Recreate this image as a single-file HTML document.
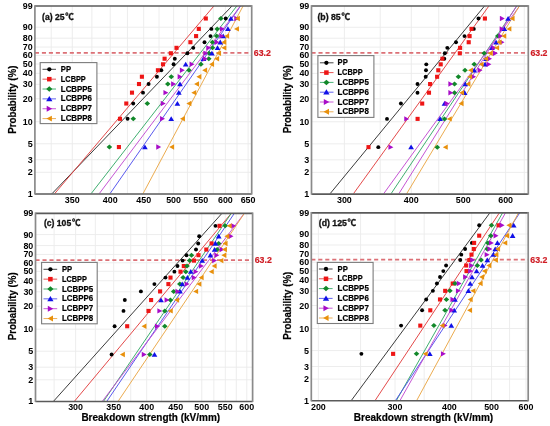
<!DOCTYPE html>
<html><head><meta charset="utf-8"><style>
html,body{margin:0;padding:0;background:#fff;width:550px;height:426px;overflow:hidden}
svg{display:block;filter:blur(0.3px);font-family:'Liberation Sans', 'Noto Sans CJK SC', sans-serif}
</style></head><body>
<svg width="550" height="426" viewBox="0 0 550 426">
<rect width="550" height="426" fill="#ffffff"/>
<g><line x1="51.25" y1="6.00" x2="51.25" y2="193.70" stroke="#ebebeb" stroke-width="0.9"/><line x1="72.30" y1="6.00" x2="72.30" y2="193.70" stroke="#ebebeb" stroke-width="0.9"/><line x1="91.89" y1="6.00" x2="91.89" y2="193.70" stroke="#ebebeb" stroke-width="0.9"/><line x1="110.22" y1="6.00" x2="110.22" y2="193.70" stroke="#ebebeb" stroke-width="0.9"/><line x1="127.44" y1="6.00" x2="127.44" y2="193.70" stroke="#ebebeb" stroke-width="0.9"/><line x1="143.67" y1="6.00" x2="143.67" y2="193.70" stroke="#ebebeb" stroke-width="0.9"/><line x1="159.03" y1="6.00" x2="159.03" y2="193.70" stroke="#ebebeb" stroke-width="0.9"/><line x1="173.60" y1="6.00" x2="173.60" y2="193.70" stroke="#ebebeb" stroke-width="0.9"/><line x1="187.45" y1="6.00" x2="187.45" y2="193.70" stroke="#ebebeb" stroke-width="0.9"/><line x1="200.66" y1="6.00" x2="200.66" y2="193.70" stroke="#ebebeb" stroke-width="0.9"/><line x1="213.29" y1="6.00" x2="213.29" y2="193.70" stroke="#ebebeb" stroke-width="0.9"/><line x1="225.38" y1="6.00" x2="225.38" y2="193.70" stroke="#ebebeb" stroke-width="0.9"/><line x1="236.97" y1="6.00" x2="236.97" y2="193.70" stroke="#ebebeb" stroke-width="0.9"/><line x1="248.11" y1="6.00" x2="248.11" y2="193.70" stroke="#ebebeb" stroke-width="0.9"/><line x1="34.90" y1="27.23" x2="251.70" y2="27.23" stroke="#ebebeb" stroke-width="0.9"/><line x1="34.90" y1="38.20" x2="251.70" y2="38.20" stroke="#ebebeb" stroke-width="0.9"/><line x1="34.90" y1="47.10" x2="251.70" y2="47.10" stroke="#ebebeb" stroke-width="0.9"/><line x1="34.90" y1="55.46" x2="251.70" y2="55.46" stroke="#ebebeb" stroke-width="0.9"/><line x1="34.90" y1="64.01" x2="251.70" y2="64.01" stroke="#ebebeb" stroke-width="0.9"/><line x1="34.90" y1="73.36" x2="251.70" y2="73.36" stroke="#ebebeb" stroke-width="0.9"/><line x1="34.90" y1="84.36" x2="251.70" y2="84.36" stroke="#ebebeb" stroke-width="0.9"/><line x1="34.90" y1="98.73" x2="251.70" y2="98.73" stroke="#ebebeb" stroke-width="0.9"/><line x1="34.90" y1="121.72" x2="251.70" y2="121.72" stroke="#ebebeb" stroke-width="0.9"/><line x1="34.90" y1="143.77" x2="251.70" y2="143.77" stroke="#ebebeb" stroke-width="0.9"/><line x1="34.90" y1="159.73" x2="251.70" y2="159.73" stroke="#ebebeb" stroke-width="0.9"/><line x1="34.90" y1="172.31" x2="251.70" y2="172.31" stroke="#ebebeb" stroke-width="0.9"/><line x1="34.90" y1="52.79" x2="251.70" y2="52.79" stroke="#dc7076" stroke-width="1.7" stroke-dasharray="4.1 2.88"/><text x="253.80" y="56.09" font-size="9.9" font-weight="bold" fill="#cf1c24" stroke="#cf1c24" stroke-width="0.2" textLength="17.1" lengthAdjust="spacingAndGlyphs">63.2</text><clipPath id="cpa"><rect x="34.90" y="6.00" width="216.80" height="187.70"/></clipPath><g clip-path="url(#cpa)"><line x1="52.00" y1="193.70" x2="232.00" y2="6.00" stroke="#303030" stroke-width="0.95"/><line x1="54.60" y1="193.70" x2="213.90" y2="6.00" stroke="#e24040" stroke-width="0.95"/><line x1="91.10" y1="193.70" x2="236.80" y2="6.00" stroke="#36aa68" stroke-width="0.95"/><line x1="110.00" y1="193.70" x2="240.50" y2="6.00" stroke="#5050ec" stroke-width="0.95"/><line x1="99.20" y1="193.70" x2="240.40" y2="6.00" stroke="#c24cd2" stroke-width="0.95"/><line x1="143.00" y1="193.70" x2="243.10" y2="6.00" stroke="#eaa646" stroke-width="0.95"/><circle cx="127.60" cy="118.82" r="1.95" fill="#000000"/><circle cx="133.20" cy="103.51" r="1.95" fill="#000000"/><circle cx="143.00" cy="92.65" r="1.95" fill="#000000"/><circle cx="148.60" cy="84.03" r="1.95" fill="#000000"/><circle cx="156.90" cy="76.72" r="1.95" fill="#000000"/><circle cx="161.30" cy="70.25" r="1.95" fill="#000000"/><circle cx="173.60" cy="64.31" r="1.95" fill="#000000"/><circle cx="174.80" cy="58.71" r="1.95" fill="#000000"/><circle cx="187.40" cy="53.27" r="1.95" fill="#000000"/><circle cx="193.30" cy="47.84" r="1.95" fill="#000000"/><circle cx="204.50" cy="42.21" r="1.95" fill="#000000"/><circle cx="210.50" cy="36.10" r="1.95" fill="#000000"/><circle cx="211.40" cy="28.88" r="1.95" fill="#000000"/><circle cx="225.70" cy="18.51" r="1.95" fill="#000000"/><rect x="116.85" y="145.01" width="4.10" height="4.10" fill="#ee1515"/><rect x="117.95" y="116.77" width="4.10" height="4.10" fill="#ee1515"/><rect x="124.25" y="101.46" width="4.10" height="4.10" fill="#ee1515"/><rect x="129.95" y="90.60" width="4.10" height="4.10" fill="#ee1515"/><rect x="136.95" y="81.98" width="4.10" height="4.10" fill="#ee1515"/><rect x="139.85" y="74.67" width="4.10" height="4.10" fill="#ee1515"/><rect x="155.85" y="68.20" width="4.10" height="4.10" fill="#ee1515"/><rect x="160.95" y="62.26" width="4.10" height="4.10" fill="#ee1515"/><rect x="162.55" y="56.66" width="4.10" height="4.10" fill="#ee1515"/><rect x="168.85" y="51.22" width="4.10" height="4.10" fill="#ee1515"/><rect x="174.45" y="45.79" width="4.10" height="4.10" fill="#ee1515"/><rect x="188.35" y="40.16" width="4.10" height="4.10" fill="#ee1515"/><rect x="194.05" y="34.05" width="4.10" height="4.10" fill="#ee1515"/><rect x="196.75" y="26.83" width="4.10" height="4.10" fill="#ee1515"/><rect x="203.75" y="16.46" width="4.10" height="4.10" fill="#ee1515"/><polygon points="106.60,147.06 109.40,144.56 112.20,147.06 109.40,149.56" fill="#12882a"/><polygon points="130.50,118.82 133.30,116.32 136.10,118.82 133.30,121.32" fill="#12882a"/><polygon points="144.50,103.51 147.30,101.01 150.10,103.51 147.30,106.01" fill="#12882a"/><polygon points="165.00,84.03 167.80,81.53 170.60,84.03 167.80,86.53" fill="#12882a"/><polygon points="168.50,76.72 171.30,74.22 174.10,76.72 171.30,79.22" fill="#12882a"/><polygon points="186.20,70.25 189.00,67.75 191.80,70.25 189.00,72.75" fill="#12882a"/><polygon points="198.10,64.31 200.90,61.81 203.70,64.31 200.90,66.81" fill="#12882a"/><polygon points="206.00,58.71 208.80,56.21 211.60,58.71 208.80,61.21" fill="#12882a"/><polygon points="206.20,53.27 209.00,50.77 211.80,53.27 209.00,55.77" fill="#12882a"/><polygon points="209.70,47.84 212.50,45.34 215.30,47.84 212.50,50.34" fill="#12882a"/><polygon points="209.70,42.21 212.50,39.71 215.30,42.21 212.50,44.71" fill="#12882a"/><polygon points="213.80,36.10 216.60,33.60 219.40,36.10 216.60,38.60" fill="#12882a"/><polygon points="214.40,28.88 217.20,26.38 220.00,28.88 217.20,31.38" fill="#12882a"/><polygon points="218.10,18.51 220.90,16.01 223.70,18.51 220.90,21.01" fill="#12882a"/><polygon points="142.05,149.26 147.75,149.26 144.90,144.46" fill="#1010e8"/><polygon points="168.35,121.02 174.05,121.02 171.20,116.22" fill="#1010e8"/><polygon points="174.55,105.71 180.25,105.71 177.40,100.91" fill="#1010e8"/><polygon points="175.95,94.85 181.65,94.85 178.80,90.05" fill="#1010e8"/><polygon points="177.15,86.23 182.85,86.23 180.00,81.43" fill="#1010e8"/><polygon points="182.85,66.51 188.55,66.51 185.70,61.71" fill="#1010e8"/><polygon points="200.65,60.91 206.35,60.91 203.50,56.11" fill="#1010e8"/><polygon points="209.05,55.47 214.75,55.47 211.90,50.67" fill="#1010e8"/><polygon points="214.65,50.04 220.35,50.04 217.50,45.24" fill="#1010e8"/><polygon points="217.45,44.41 223.15,44.41 220.30,39.61" fill="#1010e8"/><polygon points="220.35,38.30 226.05,38.30 223.20,33.50" fill="#1010e8"/><polygon points="225.05,31.08 230.75,31.08 227.90,26.28" fill="#1010e8"/><polygon points="228.05,20.71 233.75,20.71 230.90,15.91" fill="#1010e8"/><polygon points="156.25,144.36 156.25,149.76 161.20,147.06" fill="#a80cc8"/><polygon points="160.05,116.12 160.05,121.52 165.00,118.82" fill="#a80cc8"/><polygon points="160.75,100.81 160.75,106.21 165.70,103.51" fill="#a80cc8"/><polygon points="163.45,89.95 163.45,95.35 168.40,92.65" fill="#a80cc8"/><polygon points="171.15,81.33 171.15,86.73 176.10,84.03" fill="#a80cc8"/><polygon points="177.65,74.02 177.65,79.42 182.60,76.72" fill="#a80cc8"/><polygon points="179.85,67.55 179.85,72.95 184.80,70.25" fill="#a80cc8"/><polygon points="189.55,61.61 189.55,67.01 194.50,64.31" fill="#a80cc8"/><polygon points="202.85,56.01 202.85,61.41 207.80,58.71" fill="#a80cc8"/><polygon points="203.35,50.57 203.35,55.97 208.30,53.27" fill="#a80cc8"/><polygon points="206.25,45.14 206.25,50.54 211.20,47.84" fill="#a80cc8"/><polygon points="214.65,39.51 214.65,44.91 219.60,42.21" fill="#a80cc8"/><polygon points="219.35,33.40 219.35,38.80 224.30,36.10" fill="#a80cc8"/><polygon points="219.95,26.18 219.95,31.58 224.90,28.88" fill="#a80cc8"/><polygon points="234.25,15.81 234.25,21.21 239.20,18.51" fill="#a80cc8"/><polygon points="174.15,144.36 174.15,149.76 169.20,147.06" fill="#e8900c"/><polygon points="184.95,116.12 184.95,121.52 180.00,118.82" fill="#e8900c"/><polygon points="191.35,100.81 191.35,106.21 186.40,103.51" fill="#e8900c"/><polygon points="196.25,89.95 196.25,95.35 191.30,92.65" fill="#e8900c"/><polygon points="199.05,81.33 199.05,86.73 194.10,84.03" fill="#e8900c"/><polygon points="201.35,74.02 201.35,79.42 196.40,76.72" fill="#e8900c"/><polygon points="207.15,67.55 207.15,72.95 202.20,70.25" fill="#e8900c"/><polygon points="214.05,61.61 214.05,67.01 209.10,64.31" fill="#e8900c"/><polygon points="219.15,56.01 219.15,61.41 214.20,58.71" fill="#e8900c"/><polygon points="221.05,50.57 221.05,55.97 216.10,53.27" fill="#e8900c"/><polygon points="226.35,45.14 226.35,50.54 221.40,47.84" fill="#e8900c"/><polygon points="226.35,39.51 226.35,44.91 221.40,42.21" fill="#e8900c"/><polygon points="229.15,33.40 229.15,38.80 224.20,36.10" fill="#e8900c"/><polygon points="238.95,26.18 238.95,31.58 234.00,28.88" fill="#e8900c"/><polygon points="239.85,15.81 239.85,21.21 234.90,18.51" fill="#e8900c"/></g><line x1="34.90" y1="6.00" x2="251.70" y2="6.00" stroke="#5a5a5a" stroke-width="1.7"/><line x1="34.90" y1="194.00" x2="251.70" y2="194.00" stroke="#5a5a5a" stroke-width="1.6"/><line x1="34.90" y1="5.15" x2="34.90" y2="194.55" stroke="#8a8a8a" stroke-width="1.7"/><line x1="251.70" y1="5.15" x2="251.70" y2="194.55" stroke="#8a8a8a" stroke-width="1.7"/><rect x="40.20" y="62.60" width="56.70" height="61.00" fill="#ffffff" stroke="#7c7c7c" stroke-width="1.1"/><line x1="42.50" y1="69.30" x2="56.00" y2="69.30" stroke="#303030" stroke-width="0.9"/><circle cx="49.30" cy="69.30" r="2.15" fill="#000000"/><text x="60.80" y="71.80" font-size="8.4" font-weight="bold" fill="#000" stroke="#000" stroke-width="0.22" textLength="10.2" lengthAdjust="spacingAndGlyphs">PP</text><line x1="42.50" y1="79.16" x2="56.00" y2="79.16" stroke="#e24040" stroke-width="0.9"/><rect x="47.04" y="76.91" width="4.51" height="4.51" fill="#ee1515"/><text x="60.80" y="81.66" font-size="8.4" font-weight="bold" fill="#000" stroke="#000" stroke-width="0.22" textLength="25.0" lengthAdjust="spacingAndGlyphs">LCBPP</text><line x1="42.50" y1="89.02" x2="56.00" y2="89.02" stroke="#36aa68" stroke-width="0.9"/><polygon points="46.22,89.02 49.30,86.27 52.38,89.02 49.30,91.77" fill="#12882a"/><text x="60.80" y="91.52" font-size="8.4" font-weight="bold" fill="#000" stroke="#000" stroke-width="0.22" textLength="31.2" lengthAdjust="spacingAndGlyphs">LCBPP5</text><line x1="42.50" y1="98.88" x2="56.00" y2="98.88" stroke="#5050ec" stroke-width="0.9"/><polygon points="46.16,101.30 52.43,101.30 49.30,96.02" fill="#1010e8"/><text x="60.80" y="101.38" font-size="8.4" font-weight="bold" fill="#000" stroke="#000" stroke-width="0.22" textLength="31.2" lengthAdjust="spacingAndGlyphs">LCBPP6</text><line x1="42.50" y1="108.74" x2="56.00" y2="108.74" stroke="#c24cd2" stroke-width="0.9"/><polygon points="46.71,105.77 46.71,111.71 52.16,108.74" fill="#a80cc8"/><text x="60.80" y="111.24" font-size="8.4" font-weight="bold" fill="#000" stroke="#000" stroke-width="0.22" textLength="31.2" lengthAdjust="spacingAndGlyphs">LCBPP7</text><line x1="42.50" y1="118.60" x2="56.00" y2="118.60" stroke="#eaa646" stroke-width="0.9"/><polygon points="51.88,115.63 51.88,121.57 46.44,118.60" fill="#e8900c"/><text x="60.80" y="121.10" font-size="8.4" font-weight="bold" fill="#000" stroke="#000" stroke-width="0.22" textLength="31.2" lengthAdjust="spacingAndGlyphs">LCBPP8</text><text y="20.10" font-size="8.6" font-weight="bold" fill="#111" stroke="#111" stroke-width="0.3"><tspan x="42.10" textLength="22.50" lengthAdjust="spacingAndGlyphs">(a) 25</tspan><tspan x="65.30" font-size="8.7" textLength="8.60" lengthAdjust="spacingAndGlyphs">℃</tspan></text><text x="32.70" y="9.00" font-size="8.7" font-weight="bold" text-anchor="end" fill="#000" textLength="9.9" lengthAdjust="spacingAndGlyphs">99</text><text x="32.70" y="30.23" font-size="8.7" font-weight="bold" text-anchor="end" fill="#000" textLength="9.9" lengthAdjust="spacingAndGlyphs">90</text><text x="32.70" y="41.20" font-size="8.7" font-weight="bold" text-anchor="end" fill="#000" textLength="9.9" lengthAdjust="spacingAndGlyphs">80</text><text x="32.70" y="50.10" font-size="8.7" font-weight="bold" text-anchor="end" fill="#000" textLength="9.9" lengthAdjust="spacingAndGlyphs">70</text><text x="32.70" y="58.46" font-size="8.7" font-weight="bold" text-anchor="end" fill="#000" textLength="9.9" lengthAdjust="spacingAndGlyphs">60</text><text x="32.70" y="67.01" font-size="8.7" font-weight="bold" text-anchor="end" fill="#000" textLength="9.9" lengthAdjust="spacingAndGlyphs">50</text><text x="32.70" y="76.36" font-size="8.7" font-weight="bold" text-anchor="end" fill="#000" textLength="9.9" lengthAdjust="spacingAndGlyphs">40</text><text x="32.70" y="87.36" font-size="8.7" font-weight="bold" text-anchor="end" fill="#000" textLength="9.9" lengthAdjust="spacingAndGlyphs">30</text><text x="32.70" y="101.73" font-size="8.7" font-weight="bold" text-anchor="end" fill="#000" textLength="9.9" lengthAdjust="spacingAndGlyphs">20</text><text x="32.70" y="124.72" font-size="8.7" font-weight="bold" text-anchor="end" fill="#000" textLength="9.9" lengthAdjust="spacingAndGlyphs">10</text><text x="32.70" y="146.77" font-size="8.7" font-weight="bold" text-anchor="end" fill="#000" textLength="5.0" lengthAdjust="spacingAndGlyphs">5</text><text x="32.70" y="162.73" font-size="8.7" font-weight="bold" text-anchor="end" fill="#000" textLength="5.0" lengthAdjust="spacingAndGlyphs">3</text><text x="32.70" y="175.31" font-size="8.7" font-weight="bold" text-anchor="end" fill="#000" textLength="5.0" lengthAdjust="spacingAndGlyphs">2</text><text x="32.70" y="196.70" font-size="8.7" font-weight="bold" text-anchor="end" fill="#000" textLength="5.0" lengthAdjust="spacingAndGlyphs">1</text><text x="72.30" y="202.90" font-size="9.4" font-weight="bold" text-anchor="middle" fill="#000" textLength="14.9" lengthAdjust="spacingAndGlyphs">350</text><text x="110.22" y="202.90" font-size="9.4" font-weight="bold" text-anchor="middle" fill="#000" textLength="14.9" lengthAdjust="spacingAndGlyphs">400</text><text x="143.67" y="202.90" font-size="9.4" font-weight="bold" text-anchor="middle" fill="#000" textLength="14.9" lengthAdjust="spacingAndGlyphs">450</text><text x="173.60" y="202.90" font-size="9.4" font-weight="bold" text-anchor="middle" fill="#000" textLength="14.9" lengthAdjust="spacingAndGlyphs">500</text><text x="200.66" y="202.90" font-size="9.4" font-weight="bold" text-anchor="middle" fill="#000" textLength="14.9" lengthAdjust="spacingAndGlyphs">550</text><text x="225.38" y="202.90" font-size="9.4" font-weight="bold" text-anchor="middle" fill="#000" textLength="14.9" lengthAdjust="spacingAndGlyphs">600</text><text x="248.11" y="202.90" font-size="9.4" font-weight="bold" text-anchor="middle" fill="#000" textLength="14.9" lengthAdjust="spacingAndGlyphs">650</text><text transform="translate(16.00,99.65) rotate(-90)" x="-34.05" y="0" font-size="10.8" font-weight="bold" fill="#000" stroke="#000" stroke-width="0.2" textLength="68.1" lengthAdjust="spacingAndGlyphs">Probability (%)</text></g>
<g><line x1="344.40" y1="6.00" x2="344.40" y2="193.80" stroke="#ebebeb" stroke-width="0.9"/><line x1="380.26" y1="6.00" x2="380.26" y2="193.80" stroke="#ebebeb" stroke-width="0.9"/><line x1="411.31" y1="6.00" x2="411.31" y2="193.80" stroke="#ebebeb" stroke-width="0.9"/><line x1="438.71" y1="6.00" x2="438.71" y2="193.80" stroke="#ebebeb" stroke-width="0.9"/><line x1="463.22" y1="6.00" x2="463.22" y2="193.80" stroke="#ebebeb" stroke-width="0.9"/><line x1="485.39" y1="6.00" x2="485.39" y2="193.80" stroke="#ebebeb" stroke-width="0.9"/><line x1="505.63" y1="6.00" x2="505.63" y2="193.80" stroke="#ebebeb" stroke-width="0.9"/><line x1="524.24" y1="6.00" x2="524.24" y2="193.80" stroke="#ebebeb" stroke-width="0.9"/><line x1="311.50" y1="27.24" x2="528.30" y2="27.24" stroke="#ebebeb" stroke-width="0.9"/><line x1="311.50" y1="38.22" x2="528.30" y2="38.22" stroke="#ebebeb" stroke-width="0.9"/><line x1="311.50" y1="47.12" x2="528.30" y2="47.12" stroke="#ebebeb" stroke-width="0.9"/><line x1="311.50" y1="55.49" x2="528.30" y2="55.49" stroke="#ebebeb" stroke-width="0.9"/><line x1="311.50" y1="64.04" x2="528.30" y2="64.04" stroke="#ebebeb" stroke-width="0.9"/><line x1="311.50" y1="73.40" x2="528.30" y2="73.40" stroke="#ebebeb" stroke-width="0.9"/><line x1="311.50" y1="84.40" x2="528.30" y2="84.40" stroke="#ebebeb" stroke-width="0.9"/><line x1="311.50" y1="98.78" x2="528.30" y2="98.78" stroke="#ebebeb" stroke-width="0.9"/><line x1="311.50" y1="121.78" x2="528.30" y2="121.78" stroke="#ebebeb" stroke-width="0.9"/><line x1="311.50" y1="143.84" x2="528.30" y2="143.84" stroke="#ebebeb" stroke-width="0.9"/><line x1="311.50" y1="159.82" x2="528.30" y2="159.82" stroke="#ebebeb" stroke-width="0.9"/><line x1="311.50" y1="172.40" x2="528.30" y2="172.40" stroke="#ebebeb" stroke-width="0.9"/><line x1="311.50" y1="52.82" x2="528.30" y2="52.82" stroke="#dc7076" stroke-width="1.7" stroke-dasharray="4.1 2.88"/><text x="530.40" y="56.12" font-size="9.9" font-weight="bold" fill="#cf1c24" stroke="#cf1c24" stroke-width="0.2" textLength="17.1" lengthAdjust="spacingAndGlyphs">63.2</text><clipPath id="cpb"><rect x="311.50" y="6.00" width="216.80" height="187.80"/></clipPath><g clip-path="url(#cpb)"><line x1="330.00" y1="193.80" x2="484.50" y2="6.00" stroke="#303030" stroke-width="0.95"/><line x1="353.40" y1="193.80" x2="488.90" y2="6.00" stroke="#e24040" stroke-width="0.95"/><line x1="391.00" y1="193.80" x2="516.80" y2="6.00" stroke="#36aa68" stroke-width="0.95"/><line x1="398.80" y1="193.80" x2="516.50" y2="6.00" stroke="#c24cd2" stroke-width="0.95"/><line x1="383.60" y1="193.80" x2="519.50" y2="6.00" stroke="#c24cd2" stroke-width="0.95"/><line x1="406.60" y1="193.80" x2="519.40" y2="6.00" stroke="#eaa646" stroke-width="0.95"/><circle cx="378.30" cy="147.14" r="1.95" fill="#000000"/><circle cx="387.00" cy="118.88" r="1.95" fill="#000000"/><circle cx="400.90" cy="103.57" r="1.95" fill="#000000"/><circle cx="417.50" cy="92.70" r="1.95" fill="#000000"/><circle cx="417.50" cy="84.07" r="1.95" fill="#000000"/><circle cx="425.70" cy="76.76" r="1.95" fill="#000000"/><circle cx="426.00" cy="70.28" r="1.95" fill="#000000"/><circle cx="426.30" cy="64.34" r="1.95" fill="#000000"/><circle cx="444.30" cy="58.73" r="1.95" fill="#000000"/><circle cx="444.80" cy="53.29" r="1.95" fill="#000000"/><circle cx="447.30" cy="47.86" r="1.95" fill="#000000"/><circle cx="456.00" cy="42.23" r="1.95" fill="#000000"/><circle cx="464.50" cy="36.11" r="1.95" fill="#000000"/><circle cx="473.80" cy="28.89" r="1.95" fill="#000000"/><circle cx="478.50" cy="18.52" r="1.95" fill="#000000"/><rect x="366.45" y="145.09" width="4.10" height="4.10" fill="#ee1515"/><rect x="415.55" y="116.83" width="4.10" height="4.10" fill="#ee1515"/><rect x="420.15" y="101.52" width="4.10" height="4.10" fill="#ee1515"/><rect x="426.95" y="90.65" width="4.10" height="4.10" fill="#ee1515"/><rect x="428.05" y="82.02" width="4.10" height="4.10" fill="#ee1515"/><rect x="435.05" y="74.71" width="4.10" height="4.10" fill="#ee1515"/><rect x="436.25" y="68.23" width="4.10" height="4.10" fill="#ee1515"/><rect x="438.65" y="62.29" width="4.10" height="4.10" fill="#ee1515"/><rect x="440.35" y="56.68" width="4.10" height="4.10" fill="#ee1515"/><rect x="457.75" y="51.24" width="4.10" height="4.10" fill="#ee1515"/><rect x="458.05" y="45.81" width="4.10" height="4.10" fill="#ee1515"/><rect x="466.65" y="40.18" width="4.10" height="4.10" fill="#ee1515"/><rect x="467.55" y="34.06" width="4.10" height="4.10" fill="#ee1515"/><rect x="469.45" y="26.84" width="4.10" height="4.10" fill="#ee1515"/><rect x="482.85" y="16.47" width="4.10" height="4.10" fill="#ee1515"/><polygon points="434.50,147.14 437.30,144.64 440.10,147.14 437.30,149.64" fill="#12882a"/><polygon points="441.70,118.88 444.50,116.38 447.30,118.88 444.50,121.38" fill="#12882a"/><polygon points="451.70,92.70 454.50,90.20 457.30,92.70 454.50,95.20" fill="#12882a"/><polygon points="451.70,84.07 454.50,81.57 457.30,84.07 454.50,86.57" fill="#12882a"/><polygon points="455.60,76.76 458.40,74.26 461.20,76.76 458.40,79.26" fill="#12882a"/><polygon points="462.20,70.28 465.00,67.78 467.80,70.28 465.00,72.78" fill="#12882a"/><polygon points="471.40,64.34 474.20,61.84 477.00,64.34 474.20,66.84" fill="#12882a"/><polygon points="481.40,53.29 484.20,50.79 487.00,53.29 484.20,55.79" fill="#12882a"/><polygon points="495.00,36.11 497.80,33.61 500.60,36.11 497.80,38.61" fill="#12882a"/><polygon points="408.25,149.34 413.95,149.34 411.10,144.54" fill="#1010e8"/><polygon points="437.25,121.08 442.95,121.08 440.10,116.28" fill="#1010e8"/><polygon points="441.65,105.77 447.35,105.77 444.50,100.97" fill="#1010e8"/><polygon points="461.75,94.90 467.45,94.90 464.60,90.10" fill="#1010e8"/><polygon points="462.45,86.27 468.15,86.27 465.30,81.47" fill="#1010e8"/><polygon points="471.45,72.48 477.15,72.48 474.30,67.68" fill="#1010e8"/><polygon points="482.15,66.54 487.85,66.54 485.00,61.74" fill="#1010e8"/><polygon points="483.15,60.93 488.85,60.93 486.00,56.13" fill="#1010e8"/><polygon points="489.15,50.06 494.85,50.06 492.00,45.26" fill="#1010e8"/><polygon points="493.25,44.43 498.95,44.43 496.10,39.63" fill="#1010e8"/><polygon points="501.55,31.09 507.25,31.09 504.40,26.29" fill="#1010e8"/><polygon points="505.25,20.72 510.95,20.72 508.10,15.92" fill="#1010e8"/><polygon points="388.45,144.44 388.45,149.84 393.40,147.14" fill="#a80cc8"/><polygon points="404.25,116.18 404.25,121.58 409.20,118.88" fill="#a80cc8"/><polygon points="444.55,100.87 444.55,106.27 449.50,103.57" fill="#a80cc8"/><polygon points="448.35,90.00 448.35,95.40 453.30,92.70" fill="#a80cc8"/><polygon points="448.35,81.37 448.35,86.77 453.30,84.07" fill="#a80cc8"/><polygon points="471.15,74.06 471.15,79.46 476.10,76.76" fill="#a80cc8"/><polygon points="477.55,67.58 477.55,72.98 482.50,70.28" fill="#a80cc8"/><polygon points="486.45,61.64 486.45,67.04 491.40,64.34" fill="#a80cc8"/><polygon points="487.05,56.03 487.05,61.43 492.00,58.73" fill="#a80cc8"/><polygon points="492.95,50.59 492.95,55.99 497.90,53.29" fill="#a80cc8"/><polygon points="491.65,45.16 491.65,50.56 496.60,47.86" fill="#a80cc8"/><polygon points="499.55,39.53 499.55,44.93 504.50,42.23" fill="#a80cc8"/><polygon points="498.25,33.41 498.25,38.81 503.20,36.11" fill="#a80cc8"/><polygon points="499.65,26.19 499.65,31.59 504.60,28.89" fill="#a80cc8"/><polygon points="499.85,15.82 499.85,21.22 504.80,18.52" fill="#a80cc8"/><polygon points="447.75,144.44 447.75,149.84 442.80,147.14" fill="#e8900c"/><polygon points="451.75,116.18 451.75,121.58 446.80,118.88" fill="#e8900c"/><polygon points="463.55,100.87 463.55,106.27 458.60,103.57" fill="#e8900c"/><polygon points="464.15,90.00 464.15,95.40 459.20,92.70" fill="#e8900c"/><polygon points="470.45,81.37 470.45,86.77 465.50,84.07" fill="#e8900c"/><polygon points="472.15,74.06 472.15,79.46 467.20,76.76" fill="#e8900c"/><polygon points="472.95,67.58 472.95,72.98 468.00,70.28" fill="#e8900c"/><polygon points="483.55,61.64 483.55,67.04 478.60,64.34" fill="#e8900c"/><polygon points="488.15,56.03 488.15,61.43 483.20,58.73" fill="#e8900c"/><polygon points="492.75,50.59 492.75,55.99 487.80,53.29" fill="#e8900c"/><polygon points="499.15,45.16 499.15,50.56 494.20,47.86" fill="#e8900c"/><polygon points="501.65,39.53 501.65,44.93 496.70,42.23" fill="#e8900c"/><polygon points="506.25,33.41 506.25,38.81 501.30,36.11" fill="#e8900c"/><polygon points="511.35,26.19 511.35,31.59 506.40,28.89" fill="#e8900c"/><polygon points="514.55,15.82 514.55,21.22 509.60,18.52" fill="#e8900c"/></g><line x1="311.50" y1="6.00" x2="528.30" y2="6.00" stroke="#5a5a5a" stroke-width="1.7"/><line x1="311.50" y1="194.10" x2="528.30" y2="194.10" stroke="#5a5a5a" stroke-width="1.6"/><line x1="311.50" y1="5.15" x2="311.50" y2="194.65" stroke="#8a8a8a" stroke-width="1.7"/><line x1="528.30" y1="5.15" x2="528.30" y2="194.65" stroke="#8a8a8a" stroke-width="1.7"/><rect x="317.90" y="55.60" width="56.00" height="61.80" fill="#ffffff" stroke="#7c7c7c" stroke-width="1.1"/><line x1="319.90" y1="62.80" x2="333.50" y2="62.80" stroke="#303030" stroke-width="0.9"/><circle cx="326.40" cy="62.80" r="2.15" fill="#000000"/><text x="337.60" y="65.30" font-size="8.4" font-weight="bold" fill="#000" stroke="#000" stroke-width="0.22" textLength="10.2" lengthAdjust="spacingAndGlyphs">PP</text><line x1="319.90" y1="72.60" x2="333.50" y2="72.60" stroke="#e24040" stroke-width="0.9"/><rect x="324.14" y="70.34" width="4.51" height="4.51" fill="#ee1515"/><text x="337.60" y="75.10" font-size="8.4" font-weight="bold" fill="#000" stroke="#000" stroke-width="0.22" textLength="25.0" lengthAdjust="spacingAndGlyphs">LCBPP</text><line x1="319.90" y1="82.40" x2="333.50" y2="82.40" stroke="#36aa68" stroke-width="0.9"/><polygon points="323.32,82.40 326.40,79.65 329.48,82.40 326.40,85.15" fill="#12882a"/><text x="337.60" y="84.90" font-size="8.4" font-weight="bold" fill="#000" stroke="#000" stroke-width="0.22" textLength="31.2" lengthAdjust="spacingAndGlyphs">LCBPP5</text><line x1="319.90" y1="92.20" x2="333.50" y2="92.20" stroke="#5050ec" stroke-width="0.9"/><polygon points="323.26,94.62 329.53,94.62 326.40,89.34" fill="#1010e8"/><text x="337.60" y="94.70" font-size="8.4" font-weight="bold" fill="#000" stroke="#000" stroke-width="0.22" textLength="31.2" lengthAdjust="spacingAndGlyphs">LCBPP6</text><line x1="319.90" y1="102.00" x2="333.50" y2="102.00" stroke="#c24cd2" stroke-width="0.9"/><polygon points="323.81,99.03 323.81,104.97 329.26,102.00" fill="#a80cc8"/><text x="337.60" y="104.50" font-size="8.4" font-weight="bold" fill="#000" stroke="#000" stroke-width="0.22" textLength="31.2" lengthAdjust="spacingAndGlyphs">LCBPP7</text><line x1="319.90" y1="111.80" x2="333.50" y2="111.80" stroke="#eaa646" stroke-width="0.9"/><polygon points="328.98,108.83 328.98,114.77 323.54,111.80" fill="#e8900c"/><text x="337.60" y="114.30" font-size="8.4" font-weight="bold" fill="#000" stroke="#000" stroke-width="0.22" textLength="31.2" lengthAdjust="spacingAndGlyphs">LCBPP8</text><text y="19.70" font-size="8.6" font-weight="bold" fill="#111" stroke="#111" stroke-width="0.3"><tspan x="317.40" textLength="23.30" lengthAdjust="spacingAndGlyphs">(b) 85</tspan><tspan x="341.40" font-size="8.7" textLength="8.60" lengthAdjust="spacingAndGlyphs">℃</tspan></text><text x="309.30" y="9.00" font-size="8.7" font-weight="bold" text-anchor="end" fill="#000" textLength="9.9" lengthAdjust="spacingAndGlyphs">99</text><text x="309.30" y="30.24" font-size="8.7" font-weight="bold" text-anchor="end" fill="#000" textLength="9.9" lengthAdjust="spacingAndGlyphs">90</text><text x="309.30" y="41.22" font-size="8.7" font-weight="bold" text-anchor="end" fill="#000" textLength="9.9" lengthAdjust="spacingAndGlyphs">80</text><text x="309.30" y="50.12" font-size="8.7" font-weight="bold" text-anchor="end" fill="#000" textLength="9.9" lengthAdjust="spacingAndGlyphs">70</text><text x="309.30" y="58.49" font-size="8.7" font-weight="bold" text-anchor="end" fill="#000" textLength="9.9" lengthAdjust="spacingAndGlyphs">60</text><text x="309.30" y="67.04" font-size="8.7" font-weight="bold" text-anchor="end" fill="#000" textLength="9.9" lengthAdjust="spacingAndGlyphs">50</text><text x="309.30" y="76.40" font-size="8.7" font-weight="bold" text-anchor="end" fill="#000" textLength="9.9" lengthAdjust="spacingAndGlyphs">40</text><text x="309.30" y="87.40" font-size="8.7" font-weight="bold" text-anchor="end" fill="#000" textLength="9.9" lengthAdjust="spacingAndGlyphs">30</text><text x="309.30" y="101.78" font-size="8.7" font-weight="bold" text-anchor="end" fill="#000" textLength="9.9" lengthAdjust="spacingAndGlyphs">20</text><text x="309.30" y="124.78" font-size="8.7" font-weight="bold" text-anchor="end" fill="#000" textLength="9.9" lengthAdjust="spacingAndGlyphs">10</text><text x="309.30" y="146.84" font-size="8.7" font-weight="bold" text-anchor="end" fill="#000" textLength="5.0" lengthAdjust="spacingAndGlyphs">5</text><text x="309.30" y="162.82" font-size="8.7" font-weight="bold" text-anchor="end" fill="#000" textLength="5.0" lengthAdjust="spacingAndGlyphs">3</text><text x="309.30" y="175.40" font-size="8.7" font-weight="bold" text-anchor="end" fill="#000" textLength="5.0" lengthAdjust="spacingAndGlyphs">2</text><text x="309.30" y="196.80" font-size="8.7" font-weight="bold" text-anchor="end" fill="#000" textLength="5.0" lengthAdjust="spacingAndGlyphs">1</text><text x="344.40" y="203.00" font-size="9.4" font-weight="bold" text-anchor="middle" fill="#000" textLength="14.9" lengthAdjust="spacingAndGlyphs">300</text><text x="411.31" y="203.00" font-size="9.4" font-weight="bold" text-anchor="middle" fill="#000" textLength="14.9" lengthAdjust="spacingAndGlyphs">400</text><text x="463.22" y="203.00" font-size="9.4" font-weight="bold" text-anchor="middle" fill="#000" textLength="14.9" lengthAdjust="spacingAndGlyphs">500</text><text x="505.63" y="203.00" font-size="9.4" font-weight="bold" text-anchor="middle" fill="#000" textLength="14.9" lengthAdjust="spacingAndGlyphs">600</text><text transform="translate(291.00,99.25) rotate(-90)" x="-34.05" y="0" font-size="10.8" font-weight="bold" fill="#000" stroke="#000" stroke-width="0.2" textLength="68.1" lengthAdjust="spacingAndGlyphs">Probability (%)</text></g>
<g><line x1="54.11" y1="213.30" x2="54.11" y2="401.20" stroke="#ebebeb" stroke-width="0.9"/><line x1="75.60" y1="213.30" x2="75.60" y2="401.20" stroke="#ebebeb" stroke-width="0.9"/><line x1="95.37" y1="213.30" x2="95.37" y2="401.20" stroke="#ebebeb" stroke-width="0.9"/><line x1="113.68" y1="213.30" x2="113.68" y2="401.20" stroke="#ebebeb" stroke-width="0.9"/><line x1="130.72" y1="213.30" x2="130.72" y2="401.20" stroke="#ebebeb" stroke-width="0.9"/><line x1="146.66" y1="213.30" x2="146.66" y2="401.20" stroke="#ebebeb" stroke-width="0.9"/><line x1="161.63" y1="213.30" x2="161.63" y2="401.20" stroke="#ebebeb" stroke-width="0.9"/><line x1="175.75" y1="213.30" x2="175.75" y2="401.20" stroke="#ebebeb" stroke-width="0.9"/><line x1="189.10" y1="213.30" x2="189.10" y2="401.20" stroke="#ebebeb" stroke-width="0.9"/><line x1="201.77" y1="213.30" x2="201.77" y2="401.20" stroke="#ebebeb" stroke-width="0.9"/><line x1="213.83" y1="213.30" x2="213.83" y2="401.20" stroke="#ebebeb" stroke-width="0.9"/><line x1="225.32" y1="213.30" x2="225.32" y2="401.20" stroke="#ebebeb" stroke-width="0.9"/><line x1="236.30" y1="213.30" x2="236.30" y2="401.20" stroke="#ebebeb" stroke-width="0.9"/><line x1="246.81" y1="213.30" x2="246.81" y2="401.20" stroke="#ebebeb" stroke-width="0.9"/><line x1="35.50" y1="234.56" x2="252.60" y2="234.56" stroke="#ebebeb" stroke-width="0.9"/><line x1="35.50" y1="245.54" x2="252.60" y2="245.54" stroke="#ebebeb" stroke-width="0.9"/><line x1="35.50" y1="254.44" x2="252.60" y2="254.44" stroke="#ebebeb" stroke-width="0.9"/><line x1="35.50" y1="262.81" x2="252.60" y2="262.81" stroke="#ebebeb" stroke-width="0.9"/><line x1="35.50" y1="271.37" x2="252.60" y2="271.37" stroke="#ebebeb" stroke-width="0.9"/><line x1="35.50" y1="280.73" x2="252.60" y2="280.73" stroke="#ebebeb" stroke-width="0.9"/><line x1="35.50" y1="291.75" x2="252.60" y2="291.75" stroke="#ebebeb" stroke-width="0.9"/><line x1="35.50" y1="306.13" x2="252.60" y2="306.13" stroke="#ebebeb" stroke-width="0.9"/><line x1="35.50" y1="329.14" x2="252.60" y2="329.14" stroke="#ebebeb" stroke-width="0.9"/><line x1="35.50" y1="351.22" x2="252.60" y2="351.22" stroke="#ebebeb" stroke-width="0.9"/><line x1="35.50" y1="367.20" x2="252.60" y2="367.20" stroke="#ebebeb" stroke-width="0.9"/><line x1="35.50" y1="379.79" x2="252.60" y2="379.79" stroke="#ebebeb" stroke-width="0.9"/><line x1="35.50" y1="260.14" x2="252.60" y2="260.14" stroke="#dc7076" stroke-width="1.7" stroke-dasharray="4.1 2.88"/><text x="254.70" y="263.44" font-size="9.9" font-weight="bold" fill="#cf1c24" stroke="#cf1c24" stroke-width="0.2" textLength="17.1" lengthAdjust="spacingAndGlyphs">63.2</text><clipPath id="cpc"><rect x="35.50" y="213.30" width="217.10" height="187.90"/></clipPath><g clip-path="url(#cpc)"><line x1="53.60" y1="401.20" x2="222.00" y2="213.30" stroke="#303030" stroke-width="0.95"/><line x1="74.50" y1="401.20" x2="231.30" y2="213.30" stroke="#e24040" stroke-width="0.95"/><line x1="103.60" y1="401.20" x2="231.30" y2="213.30" stroke="#36aa68" stroke-width="0.95"/><line x1="106.90" y1="401.20" x2="234.40" y2="213.30" stroke="#5050ec" stroke-width="0.95"/><line x1="102.40" y1="401.20" x2="244.30" y2="213.30" stroke="#c24cd2" stroke-width="0.95"/><line x1="118.20" y1="401.20" x2="244.40" y2="213.30" stroke="#eaa646" stroke-width="0.95"/><circle cx="111.60" cy="354.51" r="1.95" fill="#000000"/><circle cx="114.60" cy="326.24" r="1.95" fill="#000000"/><circle cx="123.50" cy="310.92" r="1.95" fill="#000000"/><circle cx="124.80" cy="300.05" r="1.95" fill="#000000"/><circle cx="140.90" cy="291.41" r="1.95" fill="#000000"/><circle cx="154.40" cy="284.10" r="1.95" fill="#000000"/><circle cx="165.50" cy="277.61" r="1.95" fill="#000000"/><circle cx="174.40" cy="271.67" r="1.95" fill="#000000"/><circle cx="177.50" cy="266.06" r="1.95" fill="#000000"/><circle cx="182.60" cy="260.62" r="1.95" fill="#000000"/><circle cx="186.50" cy="255.18" r="1.95" fill="#000000"/><circle cx="196.00" cy="249.55" r="1.95" fill="#000000"/><circle cx="198.20" cy="243.43" r="1.95" fill="#000000"/><circle cx="199.20" cy="236.20" r="1.95" fill="#000000"/><circle cx="215.50" cy="225.83" r="1.95" fill="#000000"/><rect x="125.15" y="324.19" width="4.10" height="4.10" fill="#ee1515"/><rect x="146.45" y="308.87" width="4.10" height="4.10" fill="#ee1515"/><rect x="149.05" y="298.00" width="4.10" height="4.10" fill="#ee1515"/><rect x="158.05" y="289.36" width="4.10" height="4.10" fill="#ee1515"/><rect x="166.35" y="282.05" width="4.10" height="4.10" fill="#ee1515"/><rect x="168.45" y="275.56" width="4.10" height="4.10" fill="#ee1515"/><rect x="178.45" y="269.62" width="4.10" height="4.10" fill="#ee1515"/><rect x="181.75" y="264.01" width="4.10" height="4.10" fill="#ee1515"/><rect x="191.95" y="258.57" width="4.10" height="4.10" fill="#ee1515"/><rect x="196.45" y="253.13" width="4.10" height="4.10" fill="#ee1515"/><rect x="204.25" y="247.50" width="4.10" height="4.10" fill="#ee1515"/><rect x="209.55" y="241.38" width="4.10" height="4.10" fill="#ee1515"/><rect x="217.45" y="223.78" width="4.10" height="4.10" fill="#ee1515"/><polygon points="147.00,354.51 149.80,352.01 152.60,354.51 149.80,357.01" fill="#12882a"/><polygon points="162.00,326.24 164.80,323.74 167.60,326.24 164.80,328.74" fill="#12882a"/><polygon points="162.00,310.92 164.80,308.42 167.60,310.92 164.80,313.42" fill="#12882a"/><polygon points="167.60,300.05 170.40,297.55 173.20,300.05 170.40,302.55" fill="#12882a"/><polygon points="170.90,291.41 173.70,288.91 176.50,291.41 173.70,293.91" fill="#12882a"/><polygon points="177.00,284.10 179.80,281.60 182.60,284.10 179.80,286.60" fill="#12882a"/><polygon points="180.30,277.61 183.10,275.11 185.90,277.61 183.10,280.11" fill="#12882a"/><polygon points="183.00,271.67 185.80,269.17 188.60,271.67 185.80,274.17" fill="#12882a"/><polygon points="184.20,266.06 187.00,263.56 189.80,266.06 187.00,268.56" fill="#12882a"/><polygon points="186.80,260.62 189.60,258.12 192.40,260.62 189.60,263.12" fill="#12882a"/><polygon points="188.70,255.18 191.50,252.68 194.30,255.18 191.50,257.68" fill="#12882a"/><polygon points="214.40,249.55 217.20,247.05 220.00,249.55 217.20,252.05" fill="#12882a"/><polygon points="215.90,243.43 218.70,240.93 221.50,243.43 218.70,245.93" fill="#12882a"/><polygon points="222.40,225.83 225.20,223.33 228.00,225.83 225.20,228.33" fill="#12882a"/><polygon points="151.65,356.71 157.35,356.71 154.50,351.91" fill="#1010e8"/><polygon points="158.15,302.25 163.85,302.25 161.00,297.45" fill="#1010e8"/><polygon points="177.15,293.61 182.85,293.61 180.00,288.81" fill="#1010e8"/><polygon points="179.35,286.30 185.05,286.30 182.20,281.50" fill="#1010e8"/><polygon points="184.55,279.81 190.25,279.81 187.40,275.01" fill="#1010e8"/><polygon points="187.95,273.87 193.65,273.87 190.80,269.07" fill="#1010e8"/><polygon points="199.35,262.82 205.05,262.82 202.20,258.02" fill="#1010e8"/><polygon points="207.55,257.38 213.25,257.38 210.40,252.58" fill="#1010e8"/><polygon points="211.75,251.75 217.45,251.75 214.60,246.95" fill="#1010e8"/><polygon points="212.65,245.63 218.35,245.63 215.50,240.83" fill="#1010e8"/><polygon points="215.85,238.40 221.55,238.40 218.70,233.60" fill="#1010e8"/><polygon points="141.75,351.81 141.75,357.21 146.70,354.51" fill="#a80cc8"/><polygon points="154.95,323.54 154.95,328.94 159.90,326.24" fill="#a80cc8"/><polygon points="157.35,308.22 157.35,313.62 162.30,310.92" fill="#a80cc8"/><polygon points="164.55,297.35 164.55,302.75 169.50,300.05" fill="#a80cc8"/><polygon points="175.45,288.71 175.45,294.11 180.40,291.41" fill="#a80cc8"/><polygon points="184.65,281.40 184.65,286.80 189.60,284.10" fill="#a80cc8"/><polygon points="191.75,274.91 191.75,280.31 196.70,277.61" fill="#a80cc8"/><polygon points="193.55,268.97 193.55,274.37 198.50,271.67" fill="#a80cc8"/><polygon points="198.85,263.36 198.85,268.76 203.80,266.06" fill="#a80cc8"/><polygon points="212.15,257.92 212.15,263.32 217.10,260.62" fill="#a80cc8"/><polygon points="214.35,252.48 214.35,257.88 219.30,255.18" fill="#a80cc8"/><polygon points="219.55,246.85 219.55,252.25 224.50,249.55" fill="#a80cc8"/><polygon points="228.55,233.50 228.55,238.90 233.50,236.20" fill="#a80cc8"/><polygon points="231.15,223.13 231.15,228.53 236.10,225.83" fill="#a80cc8"/><polygon points="124.85,351.81 124.85,357.21 119.90,354.51" fill="#e8900c"/><polygon points="146.45,323.54 146.45,328.94 141.50,326.24" fill="#e8900c"/><polygon points="172.75,308.22 172.75,313.62 167.80,310.92" fill="#e8900c"/><polygon points="179.15,297.35 179.15,302.75 174.20,300.05" fill="#e8900c"/><polygon points="198.15,288.71 198.15,294.11 193.20,291.41" fill="#e8900c"/><polygon points="201.35,281.40 201.35,286.80 196.40,284.10" fill="#e8900c"/><polygon points="203.65,274.91 203.65,280.31 198.70,277.61" fill="#e8900c"/><polygon points="213.75,268.97 213.75,274.37 208.80,271.67" fill="#e8900c"/><polygon points="216.65,263.36 216.65,268.76 211.70,266.06" fill="#e8900c"/><polygon points="223.35,257.92 223.35,263.32 218.40,260.62" fill="#e8900c"/><polygon points="226.35,252.48 226.35,257.88 221.40,255.18" fill="#e8900c"/><polygon points="226.95,246.85 226.95,252.25 222.00,249.55" fill="#e8900c"/><polygon points="227.55,240.73 227.55,246.13 222.60,243.43" fill="#e8900c"/><polygon points="229.35,233.50 229.35,238.90 224.40,236.20" fill="#e8900c"/><polygon points="231.65,223.13 231.65,228.53 226.70,225.83" fill="#e8900c"/></g><line x1="35.50" y1="213.30" x2="252.60" y2="213.30" stroke="#5a5a5a" stroke-width="1.7"/><line x1="35.50" y1="401.50" x2="252.60" y2="401.50" stroke="#5a5a5a" stroke-width="1.6"/><line x1="35.50" y1="212.45" x2="35.50" y2="402.05" stroke="#8a8a8a" stroke-width="1.7"/><line x1="252.60" y1="212.45" x2="252.60" y2="402.05" stroke="#8a8a8a" stroke-width="1.7"/><rect x="41.60" y="262.40" width="55.60" height="61.40" fill="#ffffff" stroke="#7c7c7c" stroke-width="1.1"/><line x1="43.50" y1="269.30" x2="57.20" y2="269.30" stroke="#303030" stroke-width="0.9"/><circle cx="50.40" cy="269.30" r="2.15" fill="#000000"/><text x="61.90" y="271.80" font-size="8.4" font-weight="bold" fill="#000" stroke="#000" stroke-width="0.22" textLength="10.2" lengthAdjust="spacingAndGlyphs">PP</text><line x1="43.50" y1="279.15" x2="57.20" y2="279.15" stroke="#e24040" stroke-width="0.9"/><rect x="48.14" y="276.90" width="4.51" height="4.51" fill="#ee1515"/><text x="61.90" y="281.65" font-size="8.4" font-weight="bold" fill="#000" stroke="#000" stroke-width="0.22" textLength="25.0" lengthAdjust="spacingAndGlyphs">LCBPP</text><line x1="43.50" y1="289.00" x2="57.20" y2="289.00" stroke="#36aa68" stroke-width="0.9"/><polygon points="47.32,289.00 50.40,286.25 53.48,289.00 50.40,291.75" fill="#12882a"/><text x="61.90" y="291.50" font-size="8.4" font-weight="bold" fill="#000" stroke="#000" stroke-width="0.22" textLength="31.2" lengthAdjust="spacingAndGlyphs">LCBPP5</text><line x1="43.50" y1="298.85" x2="57.20" y2="298.85" stroke="#5050ec" stroke-width="0.9"/><polygon points="47.27,301.27 53.53,301.27 50.40,295.99" fill="#1010e8"/><text x="61.90" y="301.35" font-size="8.4" font-weight="bold" fill="#000" stroke="#000" stroke-width="0.22" textLength="31.2" lengthAdjust="spacingAndGlyphs">LCBPP6</text><line x1="43.50" y1="308.70" x2="57.20" y2="308.70" stroke="#c24cd2" stroke-width="0.9"/><polygon points="47.81,305.73 47.81,311.67 53.26,308.70" fill="#a80cc8"/><text x="61.90" y="311.20" font-size="8.4" font-weight="bold" fill="#000" stroke="#000" stroke-width="0.22" textLength="31.2" lengthAdjust="spacingAndGlyphs">LCBPP7</text><line x1="43.50" y1="318.55" x2="57.20" y2="318.55" stroke="#eaa646" stroke-width="0.9"/><polygon points="52.98,315.58 52.98,321.52 47.54,318.55" fill="#e8900c"/><text x="61.90" y="321.05" font-size="8.4" font-weight="bold" fill="#000" stroke="#000" stroke-width="0.22" textLength="31.2" lengthAdjust="spacingAndGlyphs">LCBPP8</text><text y="225.80" font-size="8.6" font-weight="bold" fill="#111" stroke="#111" stroke-width="0.3"><tspan x="43.90" textLength="27.30" lengthAdjust="spacingAndGlyphs">(c) 105</tspan><tspan x="71.90" font-size="8.7" textLength="8.60" lengthAdjust="spacingAndGlyphs">℃</tspan></text><text x="33.30" y="216.30" font-size="8.7" font-weight="bold" text-anchor="end" fill="#000" textLength="9.9" lengthAdjust="spacingAndGlyphs">99</text><text x="33.30" y="237.56" font-size="8.7" font-weight="bold" text-anchor="end" fill="#000" textLength="9.9" lengthAdjust="spacingAndGlyphs">90</text><text x="33.30" y="248.54" font-size="8.7" font-weight="bold" text-anchor="end" fill="#000" textLength="9.9" lengthAdjust="spacingAndGlyphs">80</text><text x="33.30" y="257.44" font-size="8.7" font-weight="bold" text-anchor="end" fill="#000" textLength="9.9" lengthAdjust="spacingAndGlyphs">70</text><text x="33.30" y="265.81" font-size="8.7" font-weight="bold" text-anchor="end" fill="#000" textLength="9.9" lengthAdjust="spacingAndGlyphs">60</text><text x="33.30" y="274.37" font-size="8.7" font-weight="bold" text-anchor="end" fill="#000" textLength="9.9" lengthAdjust="spacingAndGlyphs">50</text><text x="33.30" y="283.73" font-size="8.7" font-weight="bold" text-anchor="end" fill="#000" textLength="9.9" lengthAdjust="spacingAndGlyphs">40</text><text x="33.30" y="294.75" font-size="8.7" font-weight="bold" text-anchor="end" fill="#000" textLength="9.9" lengthAdjust="spacingAndGlyphs">30</text><text x="33.30" y="309.13" font-size="8.7" font-weight="bold" text-anchor="end" fill="#000" textLength="9.9" lengthAdjust="spacingAndGlyphs">20</text><text x="33.30" y="332.14" font-size="8.7" font-weight="bold" text-anchor="end" fill="#000" textLength="9.9" lengthAdjust="spacingAndGlyphs">10</text><text x="33.30" y="354.22" font-size="8.7" font-weight="bold" text-anchor="end" fill="#000" textLength="5.0" lengthAdjust="spacingAndGlyphs">5</text><text x="33.30" y="370.20" font-size="8.7" font-weight="bold" text-anchor="end" fill="#000" textLength="5.0" lengthAdjust="spacingAndGlyphs">3</text><text x="33.30" y="382.79" font-size="8.7" font-weight="bold" text-anchor="end" fill="#000" textLength="5.0" lengthAdjust="spacingAndGlyphs">2</text><text x="33.30" y="404.20" font-size="8.7" font-weight="bold" text-anchor="end" fill="#000" textLength="5.0" lengthAdjust="spacingAndGlyphs">1</text><text x="75.60" y="410.40" font-size="9.4" font-weight="bold" text-anchor="middle" fill="#000" textLength="14.9" lengthAdjust="spacingAndGlyphs">300</text><text x="113.68" y="410.40" font-size="9.4" font-weight="bold" text-anchor="middle" fill="#000" textLength="14.9" lengthAdjust="spacingAndGlyphs">350</text><text x="146.66" y="410.40" font-size="9.4" font-weight="bold" text-anchor="middle" fill="#000" textLength="14.9" lengthAdjust="spacingAndGlyphs">400</text><text x="175.75" y="410.40" font-size="9.4" font-weight="bold" text-anchor="middle" fill="#000" textLength="14.9" lengthAdjust="spacingAndGlyphs">450</text><text x="201.77" y="410.40" font-size="9.4" font-weight="bold" text-anchor="middle" fill="#000" textLength="14.9" lengthAdjust="spacingAndGlyphs">500</text><text x="225.32" y="410.40" font-size="9.4" font-weight="bold" text-anchor="middle" fill="#000" textLength="14.9" lengthAdjust="spacingAndGlyphs">550</text><text x="246.81" y="410.40" font-size="9.4" font-weight="bold" text-anchor="middle" fill="#000" textLength="14.9" lengthAdjust="spacingAndGlyphs">600</text><text transform="translate(16.00,306.30) rotate(-90)" x="-34.05" y="0" font-size="10.8" font-weight="bold" fill="#000" stroke="#000" stroke-width="0.2" textLength="68.1" lengthAdjust="spacingAndGlyphs">Probability (%)</text><text x="81.40" y="420.50" font-size="10.6" font-weight="bold" fill="#000" stroke="#000" stroke-width="0.2" textLength="138.7" lengthAdjust="spacingAndGlyphs">Breakdown strength (kV/mm)</text></g>
<g><line x1="318.40" y1="212.80" x2="318.40" y2="400.50" stroke="#ebebeb" stroke-width="0.9"/><line x1="360.57" y1="212.80" x2="360.57" y2="400.50" stroke="#ebebeb" stroke-width="0.9"/><line x1="395.03" y1="212.80" x2="395.03" y2="400.50" stroke="#ebebeb" stroke-width="0.9"/><line x1="424.17" y1="212.80" x2="424.17" y2="400.50" stroke="#ebebeb" stroke-width="0.9"/><line x1="449.40" y1="212.80" x2="449.40" y2="400.50" stroke="#ebebeb" stroke-width="0.9"/><line x1="471.67" y1="212.80" x2="471.67" y2="400.50" stroke="#ebebeb" stroke-width="0.9"/><line x1="491.58" y1="212.80" x2="491.58" y2="400.50" stroke="#ebebeb" stroke-width="0.9"/><line x1="509.59" y1="212.80" x2="509.59" y2="400.50" stroke="#ebebeb" stroke-width="0.9"/><line x1="526.04" y1="212.80" x2="526.04" y2="400.50" stroke="#ebebeb" stroke-width="0.9"/><line x1="311.30" y1="234.03" x2="528.20" y2="234.03" stroke="#ebebeb" stroke-width="0.9"/><line x1="311.30" y1="245.00" x2="528.20" y2="245.00" stroke="#ebebeb" stroke-width="0.9"/><line x1="311.30" y1="253.90" x2="528.20" y2="253.90" stroke="#ebebeb" stroke-width="0.9"/><line x1="311.30" y1="262.26" x2="528.20" y2="262.26" stroke="#ebebeb" stroke-width="0.9"/><line x1="311.30" y1="270.81" x2="528.20" y2="270.81" stroke="#ebebeb" stroke-width="0.9"/><line x1="311.30" y1="280.16" x2="528.20" y2="280.16" stroke="#ebebeb" stroke-width="0.9"/><line x1="311.30" y1="291.16" x2="528.20" y2="291.16" stroke="#ebebeb" stroke-width="0.9"/><line x1="311.30" y1="305.53" x2="528.20" y2="305.53" stroke="#ebebeb" stroke-width="0.9"/><line x1="311.30" y1="328.52" x2="528.20" y2="328.52" stroke="#ebebeb" stroke-width="0.9"/><line x1="311.30" y1="350.57" x2="528.20" y2="350.57" stroke="#ebebeb" stroke-width="0.9"/><line x1="311.30" y1="366.53" x2="528.20" y2="366.53" stroke="#ebebeb" stroke-width="0.9"/><line x1="311.30" y1="379.11" x2="528.20" y2="379.11" stroke="#ebebeb" stroke-width="0.9"/><line x1="311.30" y1="259.59" x2="528.20" y2="259.59" stroke="#dc7076" stroke-width="1.7" stroke-dasharray="4.1 2.88"/><text x="530.30" y="262.89" font-size="9.9" font-weight="bold" fill="#cf1c24" stroke="#cf1c24" stroke-width="0.2" textLength="17.1" lengthAdjust="spacingAndGlyphs">63.2</text><clipPath id="cpd"><rect x="311.30" y="212.80" width="216.90" height="187.70"/></clipPath><g clip-path="url(#cpd)"><line x1="351.30" y1="400.50" x2="489.90" y2="212.80" stroke="#303030" stroke-width="0.95"/><line x1="375.10" y1="400.50" x2="499.40" y2="212.80" stroke="#e24040" stroke-width="0.95"/><line x1="396.40" y1="400.50" x2="502.60" y2="212.80" stroke="#36aa68" stroke-width="0.95"/><line x1="395.50" y1="400.50" x2="519.80" y2="212.80" stroke="#5050ec" stroke-width="0.95"/><line x1="400.00" y1="400.50" x2="505.50" y2="212.80" stroke="#c24cd2" stroke-width="0.95"/><line x1="416.70" y1="400.50" x2="518.50" y2="212.80" stroke="#eaa646" stroke-width="0.95"/><circle cx="361.40" cy="353.86" r="1.95" fill="#000000"/><circle cx="401.10" cy="325.62" r="1.95" fill="#000000"/><circle cx="422.10" cy="310.31" r="1.95" fill="#000000"/><circle cx="426.20" cy="299.45" r="1.95" fill="#000000"/><circle cx="432.90" cy="290.83" r="1.95" fill="#000000"/><circle cx="436.90" cy="283.52" r="1.95" fill="#000000"/><circle cx="440.00" cy="277.05" r="1.95" fill="#000000"/><circle cx="443.30" cy="271.11" r="1.95" fill="#000000"/><circle cx="446.10" cy="265.51" r="1.95" fill="#000000"/><circle cx="460.30" cy="260.07" r="1.95" fill="#000000"/><circle cx="461.30" cy="254.64" r="1.95" fill="#000000"/><circle cx="465.10" cy="249.01" r="1.95" fill="#000000"/><circle cx="471.90" cy="242.90" r="1.95" fill="#000000"/><circle cx="479.20" cy="225.31" r="1.95" fill="#000000"/><rect x="391.05" y="351.81" width="4.10" height="4.10" fill="#ee1515"/><rect x="418.25" y="323.57" width="4.10" height="4.10" fill="#ee1515"/><rect x="428.25" y="308.26" width="4.10" height="4.10" fill="#ee1515"/><rect x="437.95" y="297.40" width="4.10" height="4.10" fill="#ee1515"/><rect x="443.15" y="288.78" width="4.10" height="4.10" fill="#ee1515"/><rect x="450.65" y="281.47" width="4.10" height="4.10" fill="#ee1515"/><rect x="464.45" y="269.06" width="4.10" height="4.10" fill="#ee1515"/><rect x="464.15" y="263.46" width="4.10" height="4.10" fill="#ee1515"/><rect x="467.35" y="258.02" width="4.10" height="4.10" fill="#ee1515"/><rect x="469.45" y="252.59" width="4.10" height="4.10" fill="#ee1515"/><rect x="471.75" y="246.96" width="4.10" height="4.10" fill="#ee1515"/><rect x="472.05" y="240.85" width="4.10" height="4.10" fill="#ee1515"/><rect x="477.15" y="233.63" width="4.10" height="4.10" fill="#ee1515"/><rect x="496.45" y="223.26" width="4.10" height="4.10" fill="#ee1515"/><polygon points="413.70,353.86 416.50,351.36 419.30,353.86 416.50,356.36" fill="#12882a"/><polygon points="431.10,325.62 433.90,323.12 436.70,325.62 433.90,328.12" fill="#12882a"/><polygon points="442.20,310.31 445.00,307.81 447.80,310.31 445.00,312.81" fill="#12882a"/><polygon points="443.60,299.45 446.40,296.95 449.20,299.45 446.40,301.95" fill="#12882a"/><polygon points="447.10,290.83 449.90,288.33 452.70,290.83 449.90,293.33" fill="#12882a"/><polygon points="452.30,283.52 455.10,281.02 457.90,283.52 455.10,286.02" fill="#12882a"/><polygon points="474.50,265.51 477.30,263.01 480.10,265.51 477.30,268.01" fill="#12882a"/><polygon points="478.30,260.07 481.10,257.57 483.90,260.07 481.10,262.57" fill="#12882a"/><polygon points="484.40,249.01 487.20,246.51 490.00,249.01 487.20,251.51" fill="#12882a"/><polygon points="485.10,242.90 487.90,240.40 490.70,242.90 487.90,245.40" fill="#12882a"/><polygon points="488.00,235.68 490.80,233.18 493.60,235.68 490.80,238.18" fill="#12882a"/><polygon points="488.70,225.31 491.50,222.81 494.30,225.31 491.50,227.81" fill="#12882a"/><polygon points="426.95,356.06 432.65,356.06 429.80,351.26" fill="#1010e8"/><polygon points="448.45,327.82 454.15,327.82 451.30,323.02" fill="#1010e8"/><polygon points="451.35,312.51 457.05,312.51 454.20,307.71" fill="#1010e8"/><polygon points="452.05,301.65 457.75,301.65 454.90,296.85" fill="#1010e8"/><polygon points="465.55,293.03 471.25,293.03 468.40,288.23" fill="#1010e8"/><polygon points="467.35,285.72 473.05,285.72 470.20,280.92" fill="#1010e8"/><polygon points="469.15,279.25 474.85,279.25 472.00,274.45" fill="#1010e8"/><polygon points="473.75,273.31 479.45,273.31 476.60,268.51" fill="#1010e8"/><polygon points="479.65,267.71 485.35,267.71 482.50,262.91" fill="#1010e8"/><polygon points="484.45,262.27 490.15,262.27 487.30,257.47" fill="#1010e8"/><polygon points="490.75,256.84 496.45,256.84 493.60,252.04" fill="#1010e8"/><polygon points="492.35,251.21 498.05,251.21 495.20,246.41" fill="#1010e8"/><polygon points="494.55,245.10 500.25,245.10 497.40,240.30" fill="#1010e8"/><polygon points="509.75,237.88 515.45,237.88 512.60,233.08" fill="#1010e8"/><polygon points="510.85,227.51 516.55,227.51 513.70,222.71" fill="#1010e8"/><polygon points="440.95,351.16 440.95,356.56 445.90,353.86" fill="#a80cc8"/><polygon points="442.65,322.92 442.65,328.32 447.60,325.62" fill="#a80cc8"/><polygon points="449.35,307.61 449.35,313.01 454.30,310.31" fill="#a80cc8"/><polygon points="450.45,296.75 450.45,302.15 455.40,299.45" fill="#a80cc8"/><polygon points="455.95,288.13 455.95,293.53 460.90,290.83" fill="#a80cc8"/><polygon points="456.75,280.82 456.75,286.22 461.70,283.52" fill="#a80cc8"/><polygon points="463.15,274.35 463.15,279.75 468.10,277.05" fill="#a80cc8"/><polygon points="468.15,268.41 468.15,273.81 473.10,271.11" fill="#a80cc8"/><polygon points="469.15,262.81 469.15,268.21 474.10,265.51" fill="#a80cc8"/><polygon points="470.15,257.37 470.15,262.77 475.10,260.07" fill="#a80cc8"/><polygon points="484.65,251.94 484.65,257.34 489.60,254.64" fill="#a80cc8"/><polygon points="487.45,246.31 487.45,251.71 492.40,249.01" fill="#a80cc8"/><polygon points="488.95,240.20 488.95,245.60 493.90,242.90" fill="#a80cc8"/><polygon points="493.55,232.98 493.55,238.38 498.50,235.68" fill="#a80cc8"/><polygon points="499.65,222.61 499.65,228.01 504.60,225.31" fill="#a80cc8"/><polygon points="427.65,351.16 427.65,356.56 422.70,353.86" fill="#e8900c"/><polygon points="444.55,322.92 444.55,328.32 439.60,325.62" fill="#e8900c"/><polygon points="472.05,307.61 472.05,313.01 467.10,310.31" fill="#e8900c"/><polygon points="472.65,296.75 472.65,302.15 467.70,299.45" fill="#e8900c"/><polygon points="475.35,288.13 475.35,293.53 470.40,290.83" fill="#e8900c"/><polygon points="482.65,280.82 482.65,286.22 477.70,283.52" fill="#e8900c"/><polygon points="484.15,274.35 484.15,279.75 479.20,277.05" fill="#e8900c"/><polygon points="486.85,268.41 486.85,273.81 481.90,271.11" fill="#e8900c"/><polygon points="491.35,262.81 491.35,268.21 486.40,265.51" fill="#e8900c"/><polygon points="497.95,257.37 497.95,262.77 493.00,260.07" fill="#e8900c"/><polygon points="498.35,251.94 498.35,257.34 493.40,254.64" fill="#e8900c"/><polygon points="500.05,246.31 500.05,251.71 495.10,249.01" fill="#e8900c"/><polygon points="507.25,240.20 507.25,245.60 502.30,242.90" fill="#e8900c"/><polygon points="509.15,232.98 509.15,238.38 504.20,235.68" fill="#e8900c"/><polygon points="511.35,222.61 511.35,228.01 506.40,225.31" fill="#e8900c"/></g><line x1="311.30" y1="212.80" x2="528.20" y2="212.80" stroke="#5a5a5a" stroke-width="1.7"/><line x1="311.30" y1="400.80" x2="528.20" y2="400.80" stroke="#5a5a5a" stroke-width="1.6"/><line x1="311.30" y1="211.95" x2="311.30" y2="401.35" stroke="#8a8a8a" stroke-width="1.7"/><line x1="528.20" y1="211.95" x2="528.20" y2="401.35" stroke="#8a8a8a" stroke-width="1.7"/><rect x="317.30" y="262.40" width="55.80" height="61.10" fill="#ffffff" stroke="#7c7c7c" stroke-width="1.1"/><line x1="318.90" y1="269.00" x2="332.60" y2="269.00" stroke="#303030" stroke-width="0.9"/><circle cx="326.00" cy="269.00" r="2.15" fill="#000000"/><text x="337.60" y="271.50" font-size="8.4" font-weight="bold" fill="#000" stroke="#000" stroke-width="0.22" textLength="10.2" lengthAdjust="spacingAndGlyphs">PP</text><line x1="318.90" y1="278.80" x2="332.60" y2="278.80" stroke="#e24040" stroke-width="0.9"/><rect x="323.75" y="276.55" width="4.51" height="4.51" fill="#ee1515"/><text x="337.60" y="281.30" font-size="8.4" font-weight="bold" fill="#000" stroke="#000" stroke-width="0.22" textLength="25.0" lengthAdjust="spacingAndGlyphs">LCBPP</text><line x1="318.90" y1="288.60" x2="332.60" y2="288.60" stroke="#36aa68" stroke-width="0.9"/><polygon points="322.92,288.60 326.00,285.85 329.08,288.60 326.00,291.35" fill="#12882a"/><text x="337.60" y="291.10" font-size="8.4" font-weight="bold" fill="#000" stroke="#000" stroke-width="0.22" textLength="31.2" lengthAdjust="spacingAndGlyphs">LCBPP5</text><line x1="318.90" y1="298.40" x2="332.60" y2="298.40" stroke="#5050ec" stroke-width="0.9"/><polygon points="322.87,300.82 329.13,300.82 326.00,295.54" fill="#1010e8"/><text x="337.60" y="300.90" font-size="8.4" font-weight="bold" fill="#000" stroke="#000" stroke-width="0.22" textLength="31.2" lengthAdjust="spacingAndGlyphs">LCBPP6</text><line x1="318.90" y1="308.20" x2="332.60" y2="308.20" stroke="#c24cd2" stroke-width="0.9"/><polygon points="323.42,305.23 323.42,311.17 328.86,308.20" fill="#a80cc8"/><text x="337.60" y="310.70" font-size="8.4" font-weight="bold" fill="#000" stroke="#000" stroke-width="0.22" textLength="31.2" lengthAdjust="spacingAndGlyphs">LCBPP7</text><line x1="318.90" y1="318.00" x2="332.60" y2="318.00" stroke="#eaa646" stroke-width="0.9"/><polygon points="328.58,315.03 328.58,320.97 323.14,318.00" fill="#e8900c"/><text x="337.60" y="320.50" font-size="8.4" font-weight="bold" fill="#000" stroke="#000" stroke-width="0.22" textLength="31.2" lengthAdjust="spacingAndGlyphs">LCBPP8</text><text y="225.80" font-size="8.6" font-weight="bold" fill="#111" stroke="#111" stroke-width="0.3"><tspan x="318.80" textLength="28.10" lengthAdjust="spacingAndGlyphs">(d) 125</tspan><tspan x="347.60" font-size="8.7" textLength="8.60" lengthAdjust="spacingAndGlyphs">℃</tspan></text><text x="309.10" y="215.80" font-size="8.7" font-weight="bold" text-anchor="end" fill="#000" textLength="9.9" lengthAdjust="spacingAndGlyphs">99</text><text x="309.10" y="237.03" font-size="8.7" font-weight="bold" text-anchor="end" fill="#000" textLength="9.9" lengthAdjust="spacingAndGlyphs">90</text><text x="309.10" y="248.00" font-size="8.7" font-weight="bold" text-anchor="end" fill="#000" textLength="9.9" lengthAdjust="spacingAndGlyphs">80</text><text x="309.10" y="256.90" font-size="8.7" font-weight="bold" text-anchor="end" fill="#000" textLength="9.9" lengthAdjust="spacingAndGlyphs">70</text><text x="309.10" y="265.26" font-size="8.7" font-weight="bold" text-anchor="end" fill="#000" textLength="9.9" lengthAdjust="spacingAndGlyphs">60</text><text x="309.10" y="273.81" font-size="8.7" font-weight="bold" text-anchor="end" fill="#000" textLength="9.9" lengthAdjust="spacingAndGlyphs">50</text><text x="309.10" y="283.16" font-size="8.7" font-weight="bold" text-anchor="end" fill="#000" textLength="9.9" lengthAdjust="spacingAndGlyphs">40</text><text x="309.10" y="294.16" font-size="8.7" font-weight="bold" text-anchor="end" fill="#000" textLength="9.9" lengthAdjust="spacingAndGlyphs">30</text><text x="309.10" y="308.53" font-size="8.7" font-weight="bold" text-anchor="end" fill="#000" textLength="9.9" lengthAdjust="spacingAndGlyphs">20</text><text x="309.10" y="331.52" font-size="8.7" font-weight="bold" text-anchor="end" fill="#000" textLength="9.9" lengthAdjust="spacingAndGlyphs">10</text><text x="309.10" y="353.57" font-size="8.7" font-weight="bold" text-anchor="end" fill="#000" textLength="5.0" lengthAdjust="spacingAndGlyphs">5</text><text x="309.10" y="369.53" font-size="8.7" font-weight="bold" text-anchor="end" fill="#000" textLength="5.0" lengthAdjust="spacingAndGlyphs">3</text><text x="309.10" y="382.11" font-size="8.7" font-weight="bold" text-anchor="end" fill="#000" textLength="5.0" lengthAdjust="spacingAndGlyphs">2</text><text x="309.10" y="403.50" font-size="8.7" font-weight="bold" text-anchor="end" fill="#000" textLength="5.0" lengthAdjust="spacingAndGlyphs">1</text><text x="318.40" y="409.70" font-size="9.4" font-weight="bold" text-anchor="middle" fill="#000" textLength="14.9" lengthAdjust="spacingAndGlyphs">200</text><text x="395.03" y="409.70" font-size="9.4" font-weight="bold" text-anchor="middle" fill="#000" textLength="14.9" lengthAdjust="spacingAndGlyphs">300</text><text x="449.40" y="409.70" font-size="9.4" font-weight="bold" text-anchor="middle" fill="#000" textLength="14.9" lengthAdjust="spacingAndGlyphs">400</text><text x="491.58" y="409.70" font-size="9.4" font-weight="bold" text-anchor="middle" fill="#000" textLength="14.9" lengthAdjust="spacingAndGlyphs">500</text><text x="526.04" y="409.70" font-size="9.4" font-weight="bold" text-anchor="middle" fill="#000" textLength="14.9" lengthAdjust="spacingAndGlyphs">600</text><text transform="translate(291.40,305.70) rotate(-90)" x="-34.05" y="0" font-size="10.8" font-weight="bold" fill="#000" stroke="#000" stroke-width="0.2" textLength="68.1" lengthAdjust="spacingAndGlyphs">Probability (%)</text><text x="353.80" y="420.50" font-size="10.6" font-weight="bold" fill="#000" stroke="#000" stroke-width="0.2" textLength="139.4" lengthAdjust="spacingAndGlyphs">Breakdown strength (kV/mm)</text></g>
</svg>
</body></html>
